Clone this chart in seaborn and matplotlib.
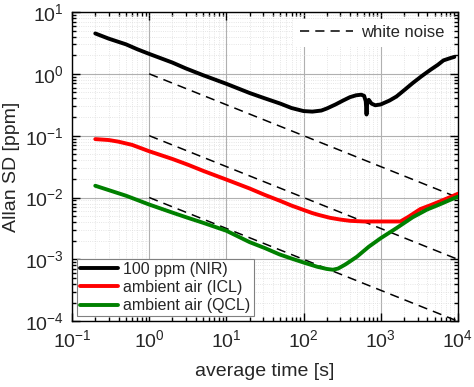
import numpy as np
import pandas as pd
import seaborn as sns
import matplotlib.pyplot as plt
from matplotlib.lines import Line2D

# values (tau in s, Allan SD in ppm)
nir_t = [0.2, 0.3, 0.5, 0.7, 1, 2, 3, 5, 10, 20, 30, 50, 70, 100, 130, 170, 200, 260,
         325, 400, 480, 560, 610, 640, 655, 670, 700, 760, 850, 1000, 1300, 1600, 2000,
         2600, 3400, 4400, 5500, 6500, 8000, 9000]
nir_sd = [4.5, 3.7, 3.0, 2.5, 2.1, 1.52, 1.22, 0.95, 0.69, 0.49, 0.41, 0.33, 0.28, 0.25,
          0.245, 0.255, 0.275, 0.32, 0.37, 0.42, 0.45, 0.46, 0.44, 0.36, 0.22, 0.36, 0.38,
          0.33, 0.31, 0.32, 0.37, 0.43, 0.54, 0.71, 0.92, 1.16, 1.4, 1.65, 1.8, 1.88]

icl_t = [0.2, 0.3, 0.4, 0.6, 1, 2, 3.16, 5, 10, 20, 31.6, 50, 70, 100, 130, 160, 220,
         300, 400, 600, 1000, 1400, 1800, 2300, 3250, 4400, 5900, 8000, 10000]
icl_sd = [0.088, 0.085, 0.080, 0.071, 0.056, 0.042, 0.034, 0.027, 0.0195, 0.014, 0.011,
          0.0088, 0.0074, 0.0063, 0.0056, 0.0052, 0.0047, 0.0044, 0.0042, 0.0041, 0.0041,
          0.0041, 0.0041, 0.0049, 0.0065, 0.0075, 0.0087, 0.0102, 0.0115]

qcl_t = [0.2, 0.5, 1, 2, 3.16, 5, 10, 20, 31.6, 49, 70, 100, 150, 200, 240, 280, 350,
         490, 700, 1000, 1600, 2600, 4000, 5900, 8000, 10000]
qcl_sd = [0.0155, 0.0107, 0.0077, 0.0057, 0.0047, 0.0039, 0.0029, 0.0019, 0.00152,
          0.0012, 0.00103, 0.00089, 0.00076, 0.00070, 0.00068, 0.00071, 0.00083, 0.0011,
          0.0016, 0.0022, 0.0032, 0.0048, 0.0064, 0.0078, 0.0092, 0.0103]

# white noise guides: slope -1/2, starting at tau = 1 s
wn_t = [1, 10000]
wn_start = [1, 0.1, 0.01]

labels = ['100 ppm (NIR)', 'ambient air (ICL)', 'ambient air (QCL)']
colors = ['black', '#ff0000', '#008000']

df = pd.concat([
    pd.DataFrame({'t': nir_t, 'sd': nir_sd, 'series': labels[0]}),
    pd.DataFrame({'t': icl_t, 'sd': icl_sd, 'series': labels[1]}),
    pd.DataFrame({'t': qcl_t, 'sd': qcl_sd, 'series': labels[2]}),
])

sns.set_theme(style='ticks')
plt.rcParams['font.family'] = ['Liberation Sans', 'DejaVu Sans']
plt.rcParams['mathtext.fontset'] = 'custom'
plt.rcParams['mathtext.rm'] = 'Liberation Sans'
plt.rcParams['mathtext.it'] = 'Liberation Sans:italic'
plt.rcParams['mathtext.default'] = 'regular'

fig = plt.figure(figsize=(4.74, 3.87), dpi=100)
ax = fig.add_axes([0.152, 0.17, 0.814, 0.799])

for s in wn_start:
    ax.plot(wn_t, [s * (t / wn_t[0]) ** -0.5 for t in wn_t], color='black',
            lw=1.1, dashes=(6, 4), zorder=2)

sns.lineplot(data=df, x='t', y='sd', hue='series', palette=colors, lw=2.8,
             ax=ax, legend=False, zorder=3, sort=False)

ax.set_xscale('log')
ax.set_yscale('log')
ax.set_xlim(0.1, 1e4)
ax.set_ylim(1e-4, 10)

ax.grid(which='major', color='#b0b0b0', lw=0.8, ls='-')
ax.grid(which='minor', color='#dddddd', lw=0.6, ls=':')
ax.set_axisbelow(True)

ax.tick_params(which='both', direction='in', top=True, right=True, labelsize=14,
               color='black', width=1)
ax.tick_params(which='major', length=6, pad=6)
ax.tick_params(which='minor', length=3)
for sp in ax.spines.values():
    sp.set_color('black')
    sp.set_linewidth(1)

ax.set_xlabel('average time [s]', fontsize=14, labelpad=8)
ax.set_ylabel('Allan SD [ppm]', fontsize=14)
ax.yaxis.set_label_coords(-0.135, 0.5)

handles = [Line2D([], [], color=c, lw=2.8) for c in colors]
leg1 = ax.legend(handles, labels, loc='lower left', fontsize=11.5, frameon=True,
                 fancybox=False, edgecolor='#808080', framealpha=1,
                 handlelength=2.4, handletextpad=0.3, borderpad=0.2,
                 labelspacing=0.2, borderaxespad=0.3)
leg1.get_frame().set_linewidth(0.8)
ax.add_artist(leg1)

wn_handle = Line2D([], [], color='black', lw=1.1, dashes=(6, 4))
leg2 = ax.legend([wn_handle], ['white noise'], loc='upper right', fontsize=12,
                 frameon=True, edgecolor='none', framealpha=1, fancybox=False,
                 handlelength=3.2, handletextpad=0.5, borderaxespad=0.4)

fig.savefig('out.png', dpi=100)
